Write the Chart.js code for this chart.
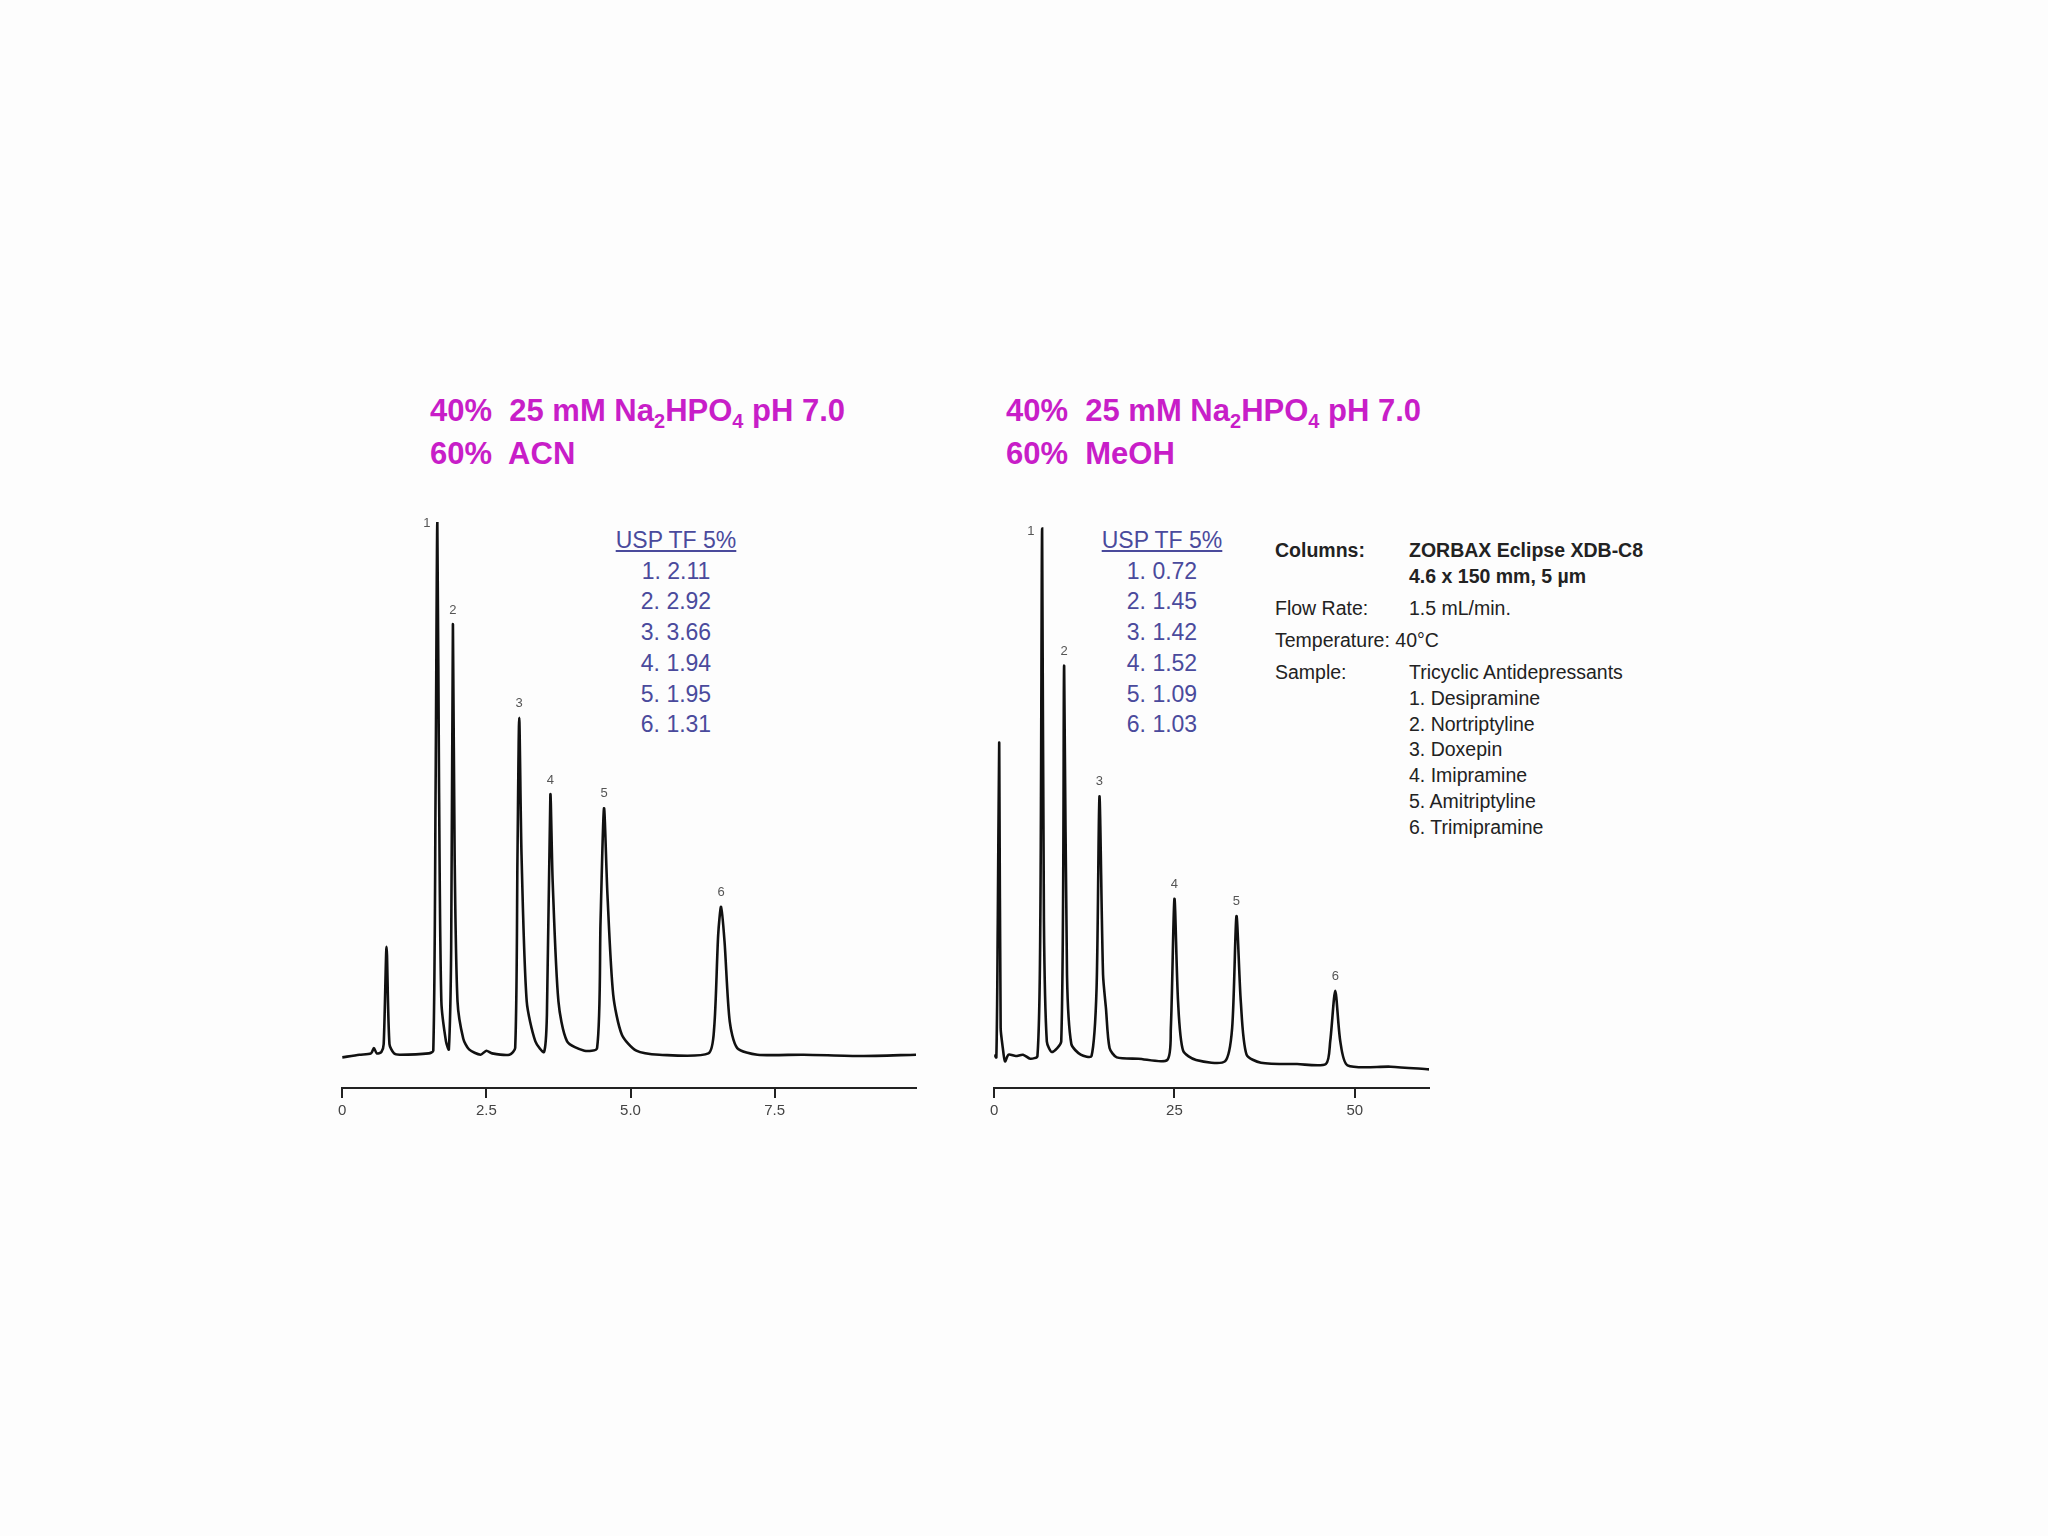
<!DOCTYPE html>
<html><head><meta charset="utf-8">
<script src="https://cdn.jsdelivr.net/npm/chart.js@4/dist/chart.umd.min.js"></script>
<style>
body{margin:0;width:2048px;height:1536px;background:#fdfdfd;position:relative;font-family:Arial,"Liberation Sans",sans-serif;overflow:hidden}
.t{position:absolute;color:#c81ec8;font-weight:bold;font-size:31px;line-height:43px;white-space:pre}
.t sub{font-size:20px;line-height:0;vertical-align:-7px}
.usp{position:absolute;color:#4a4a9c;font-size:23px;line-height:30.7px;text-align:center;width:200px}
.info{position:absolute;font-size:19.5px;color:#222;line-height:25.8px;white-space:nowrap}
canvas{position:absolute}
</style></head><body>
<div class="t" style="left:430px;top:389px">40%  25 mM Na<sub>2</sub>HPO<sub>4</sub> pH 7.0
60%  ACN</div>
<div class="t" style="left:1006px;top:389px">40%  25 mM Na<sub>2</sub>HPO<sub>4</sub> pH 7.0
60%  MeOH</div>
<div class="usp" id="uspL" style="left:576px;top:525px"></div>
<div class="usp" id="uspR" style="left:1062px;top:525px"></div>
<div class="info" style="left:1275px;top:538px">
<div style="position:absolute;left:0;top:0;font-weight:bold">Columns:</div>
<div style="position:absolute;left:134px;top:0;font-weight:bold">ZORBAX Eclipse XDB-C8<br>4.6 x 150 mm, 5 µm</div>
<div style="position:absolute;left:0;top:58px">Flow Rate:</div><div style="position:absolute;left:134px;top:58px">1.5 mL/min.</div>
<div style="position:absolute;left:0;top:90px">Temperature: 40°C</div>
<div style="position:absolute;left:0;top:122px">Sample:</div>
<div style="position:absolute;left:134px;top:122px" id="samples"></div>
</div>
<canvas id="cL" style="left:334px;top:492px;width:584px;height:632px" width="584" height="632"></canvas>
<canvas id="cR" style="left:986px;top:492px;width:445px;height:632px" width="445" height="632"></canvas>
<script>
const sampleNames = ["Tricyclic Antidepressants","1. Desipramine","2. Nortriptyline","3. Doxepin","4. Imipramine","5. Amitriptyline","6. Trimipramine"];
const uspACN = ["2.11","2.92","3.66","1.94","1.95","1.31"];
const uspMeOH = ["0.72","1.45","1.42","1.52","1.09","1.03"];
const ticksACN = [0,2.5,5,7.5];
const ticksMeOH = [0,25,50];
const traceACN = [[0,-2],[0.3,0],[0.5,1],[0.55,5],[0.6,1],[0.68,2],[0.72,8],[0.77,81],[0.82,8],[0.9,1],[1.0,0],[1.5,1],[1.58,3],[1.62,200],[1.65,400],[1.68,200],[1.72,40],[1.8,10],[1.85,4],[1.89,80],[1.92,323],[1.95,150],[2.0,40],[2.1,12],[2.2,4],[2.4,0],[2.5,3],[2.6,1],[2.9,0],[3.0,5],[3.04,150],[3.07,253],[3.11,150],[3.2,40],[3.35,10],[3.5,2],[3.55,30],[3.61,195],[3.65,130],[3.75,40],[3.9,10],[4.2,3],[4.42,5],[4.48,100],[4.54,185],[4.6,120],[4.7,45],[4.85,15],[5.1,3],[5.5,0],[6.35,1],[6.45,20],[6.52,90],[6.57,111],[6.63,85],[6.72,25],[6.85,5],[7.2,0],[8,0],[9,-1],[9.95,0]];
const traceMeOH = [[0,0],[0.3,-2],[0.5,100],[0.7,234],[0.9,20],[1.2,5],[1.5,-5],[2,0],[3,-1],[4,0],[5,-3],[6,-1],[6.4,100],[6.65,395],[6.9,100],[7.3,10],[8,2],[9.3,10],[9.7,292],[10.1,60],[10.7,8],[12,0],[13.5,-1],[14.2,50],[14.6,194],[15.1,60],[15.5,35],[16,5],[17,-2],[20,-3],[24,-4],[24.5,20],[25,117],[25.5,40],[26.2,3],[28,-4],[32,-5],[33,20],[33.6,104],[34.2,40],[35,0],[37,-6],[42,-7],[46,-7],[46.6,10],[47.3,48],[48,10],[49,-8],[55,-9],[60.3,-11]];
const peaksACN = [[1.47,388],[1.92,323],[3.07,253],[3.61,195],[4.54,185],[6.57,111]];
const peaksMeOH = [[5.1,382],[9.7,292],[14.6,194],[25,117],[33.6,104],[47.3,48]];

document.getElementById('samples').innerHTML = sampleNames.join('<br>');
function usp(id, vals){document.getElementById(id).innerHTML='<u>USP TF 5%</u><br>'+vals.map((v,i)=>(i+1)+'. '+v).join('<br>');}
usp('uspL',uspACN); usp('uspR',uspMeOH);

function make(id, trace, peaks, xmax, ticks, fmt){
  new Chart(document.getElementById(id),{
    type:'line',
    data:{datasets:[{data:trace.map(p=>({x:p[0],y:p[1]})),borderColor:'#111',borderWidth:2.6,pointRadius:0,tension:0.25,fill:false}]},
    options:{responsive:false,animation:false,events:[],
      layout:{padding:{top:30,left:2,right:2,bottom:0}},
      plugins:{legend:{display:false},tooltip:{enabled:false}},
      scales:{
        x:{type:'linear',min:0,max:xmax,
          afterBuildTicks:s=>{s.ticks=ticks.map(v=>({value:v}));},
          ticks:{callback:fmt,color:'#444',font:{size:15,family:'Arial'},padding:4,maxRotation:0},
          grid:{drawOnChartArea:false,tickLength:10,color:'#222',lineWidth:2},
          border:{color:'#222',width:2}},
        y:{display:false,min:-25,max:400}
      }},
    plugins:[{id:'pk',afterDatasetsDraw(c){const x=c.scales.x,y=c.scales.y,ctx=c.ctx;ctx.save();ctx.fillStyle='#555';ctx.font='13px Arial';ctx.textAlign='center';ctx.textBaseline='bottom';
      peaks.forEach((p,i)=>ctx.fillText(String(i+1),x.getPixelForValue(p[0]),y.getPixelForValue(p[1])-8));ctx.restore();}}]
  });
}
make('cL',traceACN,peaksACN,9.95,ticksACN,v=>v===0?'0':v.toFixed(1));
make('cR',traceMeOH,peaksMeOH,60.3,ticksMeOH,v=>String(v));
</script>
</body></html>
